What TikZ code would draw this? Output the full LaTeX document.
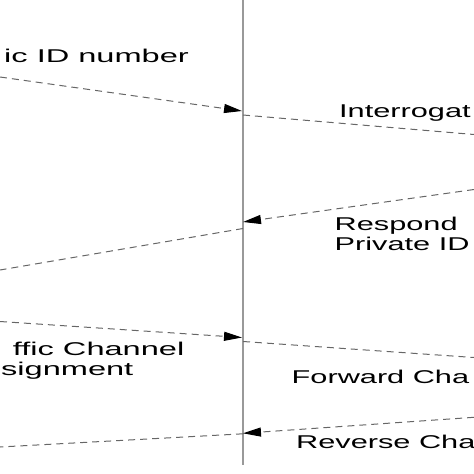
\documentclass[tikz,border=0pt]{standalone}
\usepackage{fontspec}
\setmainfont{Liberation Sans}
\usepackage{graphicx}
\usetikzlibrary{arrows.meta}
\tikzset{
  axisline/.style={draw=black!40, line width=1.1pt},
  msg/.style={draw=black!60, line width=1pt, dash pattern=on 7pt off 5pt},
  msgarrow/.style={msg, -{Triangle[length=18pt,width=9pt,color=black,fill=black]}},
  lbl/.style={inner sep=0pt, font=\fontsize{18.5}{20}\selectfont},
}
\newcommand{\wideL}[1]{\scalebox{1.76}[1]{#1}}
\newcommand{\wideR}[1]{\scalebox{1.66}[1]{#1}}
\begin{document}
\begin{tikzpicture}[x=1pt,y=-1pt]
\useasboundingbox (0,0) rectangle (474,474);
% vertical axis
\coordinate (top) at (243,0);
\coordinate (bot) at (243,465);
\draw[axisline] (top) -- (bot);
% message end points
\coordinate (a1) at (0,77);
\coordinate (a2) at (242,111);
\coordinate (b1) at (243,115);
\coordinate (b2) at (474,134.5);
\coordinate (c1) at (474,189.5);
\coordinate (c2) at (243,222);
\coordinate (d1) at (243,228.5);
\coordinate (d2) at (0,270);
\coordinate (e1) at (0,321.5);
\coordinate (e2) at (242,337.5);
\coordinate (f1) at (243,341.5);
\coordinate (f2) at (474,357.5);
\coordinate (g1) at (474,417.3);
\coordinate (g2) at (243,433.3);
\coordinate (h1) at (243,433.8);
\coordinate (h2) at (0,447);
\draw[msgarrow] (a1) -- (a2);
\draw[msg] (b1) -- (b2);
\draw[msgarrow] (c1) -- (c2);
\draw[msg] (d1) -- (d2);
\draw[msgarrow] (e1) -- (e2);
\draw[msg] (f1) -- (f2);
\draw[msgarrow] (g1) -- (g2);
\draw[msg] (h1) -- (h2);
% labels
\node[lbl, anchor=base east] (t1) at (189,62) {\wideL{ic ID number}};
\node[lbl, anchor=base west] (t2) at (339,117) {\wideR{Interrogat}};
\node[lbl, anchor=base west] (t3) at (334.5,230) {\wideR{Respond}};
\node[lbl, anchor=base west] (t4) at (334.5,250) {\wideR{Private ID}};
\node[lbl, anchor=base east] (t5) at (184.5,355) {\wideL{ffic Channel}};
\node[lbl, anchor=base west] (t6) at (1,375) {\wideL{signment}};
\node[lbl, anchor=base west] (t7) at (291.5,383) {\wideR{Forward Cha}};
\node[lbl, anchor=base west] (t8) at (296,448) {\wideR{Reverse Cha}};
\end{tikzpicture}
\end{document}
